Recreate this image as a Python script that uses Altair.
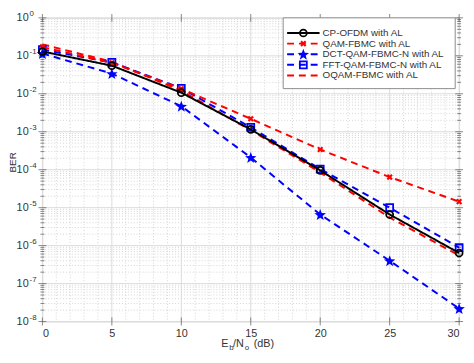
import math
import altair as alt
import pandas as pd

# ---------------- data ----------------
snr = [0, 5, 10, 15, 20, 25, 30]
cp_ofdm = [0.13, 0.055, 0.0107, 1.15e-3, 9.6e-5, 6.6e-6, 6.4e-7]
qam_fbmc = [0.17, 0.065, 0.0135, 2.2e-3, 3.4e-4, 6.4e-5, 1.44e-5]
dct_qam = [0.115, 0.034, 4.7e-3, 2.1e-4, 6.6e-6, 4.0e-7, 2.2e-8]
fft_qam = [0.146, 0.067, 0.014, 1.3e-3, 1.04e-4, 1.0e-5, 8.9e-7]
oqam_fbmc = [0.2, 0.07, 0.012, 1.1e-3, 8.5e-5, 5.5e-6, 5.5e-7]

names = ["CP-OFDM with AL", "QAM-FBMC with AL", "DCT-QAM-FBMC-N with AL",
         "FFT-QAM-FBMC-N with AL", "OQAM-FBMC with AL"]
series_vals = [cp_ofdm, qam_fbmc, dct_qam, fft_qam, oqam_fbmc]
x_ticks = [0, 5, 10, 15, 20, 25, 30]
exponents = [0, -1, -2, -3, -4, -5, -6, -7, -8]

# ---------------- styles ----------------
FONT = "Liberation Sans"
TXT = "#333333"
W, H = 424, 309
colors = ["#000000", "#ff0000", "#0000ff", "#0000ff", "#ff0000"]
dashes = [[1, 0], [7, 5], [7, 5], [7, 5], [7, 5]]

pts = []
for i in range(10):
    r = 1.0 if i % 2 == 0 else 0.42
    a = -math.pi / 2 + i * math.pi / 5
    pts.append((r * math.cos(a), r * math.sin(a) + 0.1))
STAR = "M" + "L".join(f"{x:.3f},{y:.3f}" for x, y in pts) + "Z"
XMARK = "M-1,-1L1,1M-1,1L1,-1"

markers = {
    names[0]: dict(shape="circle", filled=False, size=50, strokeWidth=1.8),
    names[1]: dict(shape=XMARK, filled=False, size=22, strokeWidth=2.2),
    names[2]: dict(shape=STAR, filled=True, size=150, strokeWidth=0.5),
    names[3]: dict(shape="square", filled=False, size=50, strokeWidth=1.8),
}

rows = []
for n, vals in zip(names, series_vals):
    for x, v in zip(snr, vals):
        rows.append({"series": n, "snr": x, "ber": v})
df = pd.DataFrame(rows)
one = pd.DataFrame({"k": [0]})

xscale = alt.Scale(domain=[0, 30], nice=False, zero=False)
yscale = alt.Scale(type="log", domain=[1e-8, 1], nice=False)
xaxis = alt.Axis(values=x_ticks, grid=False, ticks=False, domain=False, title=None,
                 labelFont=FONT, labelFontSize=11, labelColor=TXT, labelPadding=6)

# ---------------- grid ----------------
major_y = [10.0 ** e for e in exponents]
minor_y = [m * 10.0 ** e for e in exponents[1:] for m in range(2, 10)]
minor_x = [v for v in range(0, 31) if v % 5 != 0]

gy_minor = alt.Chart(pd.DataFrame({"v": minor_y})).mark_rule(
    color="#d4d4d4", strokeDash=[1, 2], strokeWidth=1).encode(
    y=alt.Y("v:Q", scale=yscale, axis=None))
gx_minor = alt.Chart(pd.DataFrame({"v": minor_x})).mark_rule(
    color="#d4d4d4", strokeDash=[1, 2], strokeWidth=1).encode(
    x=alt.X("v:Q", scale=xscale, axis=xaxis))
gy_major = alt.Chart(pd.DataFrame({"v": major_y})).mark_rule(
    color="#dadada", strokeWidth=1).encode(y=alt.Y("v:Q", scale=yscale, axis=None))
gx_major = alt.Chart(pd.DataFrame({"v": x_ticks})).mark_rule(
    color="#dadada", strokeWidth=1).encode(x=alt.X("v:Q", scale=xscale, axis=xaxis))

# ticks (inward)
tick_col = "#555555"
tdf_x = pd.DataFrame({"v": x_ticks})
tdf_ymaj = pd.DataFrame({"v": major_y})
tdf_ymin = pd.DataFrame({"v": minor_y})
ticks = [
    alt.Chart(tdf_x).mark_tick(orient="vertical", size=8, color=tick_col, thickness=1).encode(
        x=alt.X("v:Q", scale=xscale, axis=xaxis), y=alt.value(H)),
    alt.Chart(tdf_x).mark_tick(orient="vertical", size=8, color=tick_col, thickness=1).encode(
        x=alt.X("v:Q", scale=xscale, axis=xaxis), y=alt.value(0)),
    alt.Chart(tdf_ymaj).mark_tick(orient="horizontal", size=8, color=tick_col, thickness=1).encode(
        y=alt.Y("v:Q", scale=yscale, axis=None), x=alt.value(0)),
    alt.Chart(tdf_ymaj).mark_tick(orient="horizontal", size=8, color=tick_col, thickness=1).encode(
        y=alt.Y("v:Q", scale=yscale, axis=None), x=alt.value(W)),
    alt.Chart(tdf_ymin).mark_tick(orient="horizontal", size=4, color=tick_col, thickness=1).encode(
        y=alt.Y("v:Q", scale=yscale, axis=None), x=alt.value(0)),
    alt.Chart(tdf_ymin).mark_tick(orient="horizontal", size=4, color=tick_col, thickness=1).encode(
        y=alt.Y("v:Q", scale=yscale, axis=None), x=alt.value(W)),
]

# ---------------- series ----------------
base = alt.Chart(df)
draw_order = [names[4], names[3], names[2], names[1], names[0]]
series_layers = []
for n in draw_order:
    i = names.index(n)
    line = base.transform_filter(alt.datum.series == n).mark_line(
        strokeWidth=2, color=colors[i], strokeDash=dashes[i]).encode(
        x=alt.X("snr:Q", scale=xscale, axis=xaxis),
        y=alt.Y("ber:Q", scale=yscale, axis=None))
    series_layers.append(line)
    if n in markers:
        m = markers[n]
        pt = base.transform_filter(alt.datum.series == n).mark_point(
            shape=m["shape"], filled=m["filled"], size=m["size"],
            strokeWidth=m["strokeWidth"], color=colors[i], opacity=1).encode(
            x=alt.X("snr:Q", scale=xscale, axis=xaxis),
            y=alt.Y("ber:Q", scale=yscale, axis=None))
        series_layers.append(pt)

# ---------------- y labels 10^k ----------------
ylab = pd.DataFrame({"v": major_y, "e": [str(e) for e in exponents]})
ten = alt.Chart(ylab).mark_text(align="right", baseline="middle", font=FONT,
                                fontSize=11, color=TXT).encode(
    y=alt.Y("v:Q", scale=yscale, axis=None), x=alt.value(-14), text=alt.value("10"))
sup = alt.Chart(ylab).mark_text(align="left", baseline="middle", font=FONT,
                                fontSize=8, color=TXT, dy=-4).encode(
    y=alt.Y("v:Q", scale=yscale, axis=None), x=alt.value(-13), text="e:N")

ber_title = alt.Chart(one).mark_text(angle=270, font=FONT, fontSize=10, color=TXT,
                                     baseline="middle", align="center").encode(
    x=alt.value(-29.5), y=alt.value(147), text=alt.value("BER"))

# x title with subscripts
xt_parts = [("E", 182, 335, 11), ("b", 190, 338, 8), ("/N", 194, 335, 11),
            ("o", 206, 338, 8), ("(dB)", 215, 335, 11)]
xtitle = []
for t, px, py, fs in xt_parts:
    xtitle.append(alt.Chart(one).mark_text(align="left", baseline="alphabetic", font=FONT,
                                           fontSize=fs, color=TXT).encode(
        x=alt.value(px), y=alt.value(py), text=alt.value(t)))

main = alt.layer(gy_minor, gx_minor, gy_major, gx_major, *ticks, *series_layers,
                 ten, sup, ber_title, *xtitle)

# ---------------- legend ----------------
leg_df = pd.DataFrame({"series": names})
ly = alt.Y("series:N", scale=alt.Scale(domain=names, range=[10, 64], padding=0), axis=None)
leg_box = alt.Chart(one).mark_rect(fill="white", stroke="#8c8c8c", strokeWidth=1).encode(
    x=alt.value(245), x2=alt.value(420), y=alt.value(0), y2=alt.value(72))
leg_layers = [leg_box]
for i, n in enumerate(names):
    sub = alt.Chart(leg_df).transform_filter(alt.datum.series == n)
    leg_layers.append(sub.mark_rule(strokeWidth=2, color=colors[i], strokeDash=dashes[i]).encode(
        y=ly, x=alt.value(249), x2=alt.value(282)))
    if n in markers:
        m = markers[n]
        leg_layers.append(sub.mark_point(shape=m["shape"], filled=m["filled"], size=m["size"],
                                         strokeWidth=m["strokeWidth"], color=colors[i],
                                         opacity=1).encode(y=ly, x=alt.value(265.5)))
leg_layers.append(alt.Chart(leg_df).mark_text(align="left", baseline="middle", font=FONT,
                                              fontSize=10, color=TXT).encode(
    y=ly, x=alt.value(285), text="series:N"))
legend = alt.layer(*leg_layers)

chart = alt.layer(main, legend).resolve_scale(y="independent").properties(
    width=W, height=H,
    padding={"left": 35, "top": 7, "right": 7, "bottom": 31},
    autosize=alt.AutoSizeParams(type="none"),
).configure_view(stroke="#666666", strokeWidth=1).configure(background="white")

chart.save("out.html", embed_options={"renderer": "svg", "actions": False})
